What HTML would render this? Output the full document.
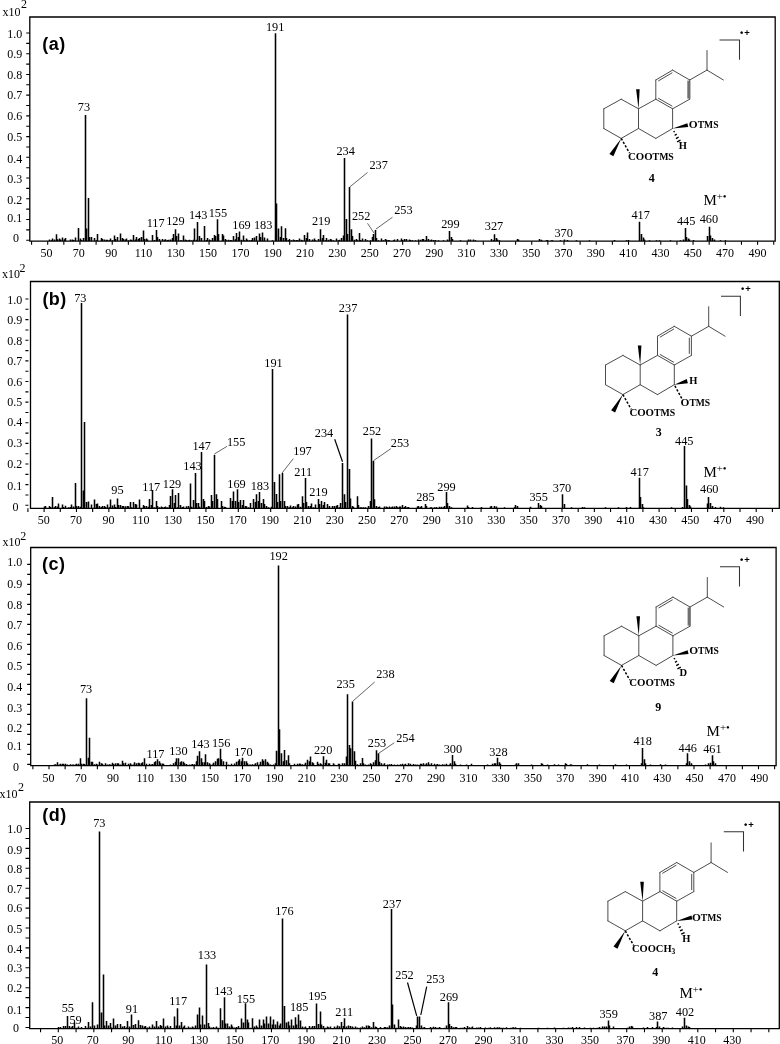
<!DOCTYPE html>
<html lang="en"><head><meta charset="utf-8"><title>Mass spectra</title>
<style>html,body{margin:0;padding:0;background:#fff}svg{display:block}text{font-family:'Liberation Serif',serif;fill:#000}text.sn{font-family:'Liberation Sans',sans-serif}</style>
</head><body>
<svg width="780" height="1044" viewBox="0 0 780 1044">
<rect width="780" height="1044" fill="#fff"/>
<g>
<path d="M29.8 241.2V17H775.2V241.2Z" stroke="#000" stroke-width="1.3" fill="none"/>
<path d="M26.2 240.2H29.8M26.2 229.84H29.8M26.2 219.48H29.8M26.2 209.12H29.8M26.2 198.76H29.8M26.2 188.4H29.8M26.2 178.04H29.8M26.2 167.68H29.8M26.2 157.32H29.8M26.2 146.96H29.8M26.2 136.6H29.8M26.2 126.24H29.8M26.2 115.88H29.8M26.2 105.52H29.8M26.2 95.16H29.8M26.2 84.8H29.8M26.2 74.44H29.8M26.2 64.08H29.8M26.2 53.72H29.8M26.2 43.36H29.8M26.2 33H29.8" stroke="#000" stroke-width="1.1" fill="none"/>
<text x="19" y="242.2" font-size="12" text-anchor="end">0</text>
<text x="22.3" y="221.5" font-size="12" text-anchor="end">0.1</text>
<text x="22.3" y="203.7" font-size="12" text-anchor="end">0.2</text>
<text x="22.3" y="183.3" font-size="12" text-anchor="end">0.3</text>
<text x="22.3" y="162.6" font-size="12" text-anchor="end">0.4</text>
<text x="22.3" y="141.4" font-size="12" text-anchor="end">0.5</text>
<text x="22.3" y="119.7" font-size="12" text-anchor="end">0.6</text>
<text x="22.3" y="99.4" font-size="12" text-anchor="end">0.7</text>
<text x="22.3" y="78.9" font-size="12" text-anchor="end">0.8</text>
<text x="22.3" y="58.3" font-size="12" text-anchor="end">0.9</text>
<text x="22.3" y="37.6" font-size="12" text-anchor="end">1.0</text>
<path d="M31.57 241.2V244.8M47.7 241.2V244.8M63.83 241.2V244.8M79.97 241.2V244.8M96.1 241.2V244.8M112.24 241.2V244.8M128.37 241.2V244.8M144.5 241.2V244.8M160.64 241.2V244.8M176.77 241.2V244.8M192.91 241.2V244.8M209.04 241.2V244.8M225.17 241.2V244.8M241.31 241.2V244.8M257.44 241.2V244.8M273.58 241.2V244.8M289.71 241.2V244.8M305.84 241.2V244.8M321.98 241.2V244.8M338.11 241.2V244.8M354.25 241.2V244.8M370.38 241.2V244.8M386.51 241.2V244.8M402.65 241.2V244.8M418.78 241.2V244.8M434.92 241.2V244.8M451.05 241.2V244.8M467.18 241.2V244.8M483.32 241.2V244.8M499.45 241.2V244.8M515.59 241.2V244.8M531.72 241.2V244.8M547.85 241.2V244.8M563.99 241.2V244.8M580.12 241.2V244.8M596.26 241.2V244.8M612.39 241.2V244.8M628.52 241.2V244.8M644.66 241.2V244.8M660.79 241.2V244.8M676.93 241.2V244.8M693.06 241.2V244.8M709.19 241.2V244.8M725.33 241.2V244.8M741.46 241.2V244.8M757.6 241.2V244.8M773.73 241.2V244.8" stroke="#000" stroke-width="1.1" fill="none"/>
<text x="46.5" y="257.1" font-size="12" text-anchor="middle">50</text>
<text x="78.81" y="257.1" font-size="12" text-anchor="middle">70</text>
<text x="111.13" y="257.1" font-size="12" text-anchor="middle">90</text>
<text x="143.44" y="257.1" font-size="12" text-anchor="middle">110</text>
<text x="175.75" y="257.1" font-size="12" text-anchor="middle">130</text>
<text x="208.07" y="257.1" font-size="12" text-anchor="middle">150</text>
<text x="240.38" y="257.1" font-size="12" text-anchor="middle">170</text>
<text x="272.7" y="257.1" font-size="12" text-anchor="middle">190</text>
<text x="305.01" y="257.1" font-size="12" text-anchor="middle">210</text>
<text x="337.32" y="257.1" font-size="12" text-anchor="middle">230</text>
<text x="369.64" y="257.1" font-size="12" text-anchor="middle">250</text>
<text x="401.95" y="257.1" font-size="12" text-anchor="middle">270</text>
<text x="434.26" y="257.1" font-size="12" text-anchor="middle">290</text>
<text x="466.58" y="257.1" font-size="12" text-anchor="middle">310</text>
<text x="498.89" y="257.1" font-size="12" text-anchor="middle">330</text>
<text x="531.2" y="257.1" font-size="12" text-anchor="middle">350</text>
<text x="563.52" y="257.1" font-size="12" text-anchor="middle">370</text>
<text x="595.83" y="257.1" font-size="12" text-anchor="middle">390</text>
<text x="628.15" y="257.1" font-size="12" text-anchor="middle">410</text>
<text x="660.46" y="257.1" font-size="12" text-anchor="middle">430</text>
<text x="692.77" y="257.1" font-size="12" text-anchor="middle">450</text>
<text x="725.09" y="257.1" font-size="12" text-anchor="middle">470</text>
<text x="757.4" y="257.1" font-size="12" text-anchor="middle">490</text>
<text x="2.5" y="16.2" font-size="12" text-anchor="start">x10</text>
<text x="21.1" y="7.7" font-size="12" text-anchor="start">2</text>
<text x="42.3" y="49.5" font-size="18" text-anchor="start" font-weight="bold" class="sn" letter-spacing="0.45">(a)</text>
<path d="M49.5 241V239.5M51.5 241V240.23M52.5 241V238.5M54.5 241V239.46M56.5 241V234.3M57.5 241V239.31M59.5 241V238.5M60.5 241V239.49M62.5 241V237.5M64.5 241V239.16M65.5 241V238M70.5 241V239.54M72.5 241V239.5M73.5 241V239.93M75.5 241V237.5M78.5 241V228M80.5 241V238.5M81.5 241V239.98M83.5 241V238M85.5 241V115M86.5 241V228.5M88.5 241V198M89.5 241V237M91.5 241V237M94.5 241V238M96.5 241V240.16M97.5 241V234M101.5 241V238M102.5 241V239M104.5 241V239.5M106.5 241V239.74M107.5 241V239.77M109.5 241V240.29M110.5 241V238.5M112.5 241V240.23M114.5 241V235.5M115.5 241V239M117.5 241V237M120.5 241V233.5M122.5 241V238M123.5 241V239M125.5 241V239.55M126.5 241V238.5M128.5 241V240.15M130.5 241V239.5M131.5 241V239.64M133.5 241V235M135.5 241V239.58M136.5 241V237M138.5 241V239M139.5 241V238M141.5 241V237M143.5 241V230.5M144.5 241V239M146.5 241V238.5M147.5 241V239.5M152.5 241V235M154.5 241V240.12M156.5 241V230M157.5 241V237M159.5 241V239M162.5 241V239M164.5 241V239.67M165.5 241V239.27M167.5 241V239.91M168.5 241V239.8M170.5 241V239.51M172.5 241V238M173.5 241V234M175.5 241V229.3M176.5 241V236M178.5 241V233.5M180.5 241V240.29M181.5 241V240.18M183.5 241V235.5M185.5 241V239.5M186.5 241V239.92M188.5 241V240.23M189.5 241V239.81M191.5 241V240.18M193.5 241V239.76M194.5 241V228.5M196.5 241V239.67M197.5 241V222M199.5 241V236M201.5 241V238M204.5 241V226M206.5 241V240.12M207.5 241V238M209.5 241V239.56M210.5 241V240.29M212.5 241V238M214.5 241V235M215.5 241V236M217.5 241V219.3M218.5 241V234M222.5 241V234M223.5 241V235.5M225.5 241V239M226.5 241V240.22M228.5 241V239.77M230.5 241V240.05M231.5 241V240.23M233.5 241V236M235.5 241V239.36M236.5 241V233M238.5 241V237M239.5 241V231.5M241.5 241V239.73M243.5 241V235.5M244.5 241V240.17M246.5 241V238.5M247.5 241V239.67M249.5 241V240.2M251.5 241V239.97M252.5 241V238M254.5 241V237.5M256.5 241V236M259.5 241V233.5M260.5 241V237M262.5 241V232.5M264.5 241V237.5M267.5 241V238.5M272.5 241V240.29M275.5 241V33.2M276.5 241V203.5M278.5 241V228.5M280.5 241V237M281.5 241V226.3M283.5 241V238M285.5 241V228.2M286.5 241V238M288.5 241V239.91M289.5 241V239M291.5 241V240.2M293.5 241V239.42M294.5 241V240.09M296.5 241V240.01M297.5 241V240.09M299.5 241V238.5M301.5 241V239.65M302.5 241V240.2M304.5 241V235M306.5 241V238M307.5 241V232.5M309.5 241V239M312.5 241V239.55M314.5 241V238.5M315.5 241V240.28M318.5 241V239M320.5 241V229.3M322.5 241V238M323.5 241V235M325.5 241V240.26M326.5 241V238M328.5 241V239.72M330.5 241V239M331.5 241V239.55M333.5 241V240.3M336.5 241V238.5M338.5 241V240.27M339.5 241V239.85M341.5 241V238M343.5 241V235.5M344.5 241V158M346.5 241V219M347.5 241V234M349.5 241V187M351.5 241V229.3M352.5 241V236M354.5 241V239.64M356.5 241V239M357.5 241V240.16M359.5 241V233M360.5 241V240.05M362.5 241V238.5M365.5 241V239M367.5 241V240.3M370.5 241V240.24M372.5 241V237M373.5 241V234M375.5 241V230M376.5 241V238M378.5 241V240.28M381.5 241V238.5M383.5 241V240.29M385.5 241V239M386.5 241V239.8M388.5 241V239.91M389.5 241V240.24M393.5 241V240.3M394.5 241V239.5M397.5 241V239M401.5 241V238.5M402.5 241V240M404.5 241V239M406.5 241V239M409.5 241V239.5M410.5 241V240.09M412.5 241V240.25M415.5 241V240.21M418.5 241V239.5M420.5 241V239.65M422.5 241V239M423.5 241V239M425.5 241V240.27M426.5 241V236M428.5 241V239M430.5 241V240.29M431.5 241V239.5M433.5 241V240.04M435.5 241V239.91M438.5 241V240.28M443.5 241V240.18M447.5 241V239.5M449.5 241V231M451.5 241V237M452.5 241V239M460.5 241V240.28M468.5 241V239.5M470.5 241V239.5M473.5 241V239.5M475.5 241V240.18M491.5 241V239M493.5 241V240.26M494.5 241V234.3M496.5 241V238M497.5 241V239.5M499.5 241V240.3M517.5 241V239M518.5 241V239.5M539.5 241V239M541.5 241V239.8M546.5 241V240.27M547.5 241V240.07M551.5 241V240.14M552.5 241V240.22M560.5 241V240.22M564.5 241V239.5M567.5 241V240M576.5 241V240.14M589.5 241V240.29M614.5 241V240.1M626.5 241V240.25M628.5 241V240M639.5 241V221.8M641.5 241V234M643.5 241V237.5M644.5 241V239.5M649.5 241V240.3M656.5 241V240.29M659.5 241V240.23M670.5 241V240.22M680.5 241V240.21M683.5 241V239.5M685.5 241V228M686.5 241V237M688.5 241V238.5M689.5 241V239.5M693.5 241V239.89M707.5 241V236M709.5 241V226.8M710.5 241V235.5M712.5 241V238M714.5 241V239.5M720.5 241V240.19M725.5 241V240.28" stroke="#000" stroke-width="1.55" fill="none"/>
<path d="M349.7 187L367.5 172.5" stroke="#333" stroke-width="0.75" fill="none"/>
<path d="M367.5 223.3L374.2 233.3" stroke="#333" stroke-width="0.75" fill="none"/>
<path d="M375.8 229.2L392.5 217.2" stroke="#333" stroke-width="0.75" fill="none"/>
<text x="265.95" y="30.6" font-size="12.3" text-anchor="start">191</text>
<text x="77.85" y="111.2" font-size="12.3" text-anchor="start">73</text>
<text x="336.45" y="154.5" font-size="12.3" text-anchor="start">234</text>
<text x="369.45" y="169.2" font-size="12.3" text-anchor="start">237</text>
<text x="703.4" y="205.2" font-size="15">M<tspan font-size="10.8" dy="-5">+•</tspan></text>
</g>
<g>
<path d="M30.5 508.3V281.5H779.3V508.3Z" stroke="#000" stroke-width="1.3" fill="none"/>
<path d="M25.4 505.3H28.4M25.4 494.99H28.4M25.4 484.67H28.4M25.4 474.36H28.4M25.4 464.04H28.4M25.4 453.73H28.4M25.4 443.41H28.4M25.4 433.1H28.4M25.4 422.78H28.4M25.4 412.47H28.4M25.4 402.15H28.4M25.4 391.84H28.4M25.4 381.52H28.4M25.4 371.21H28.4M25.4 360.89H28.4M25.4 350.58H28.4M25.4 340.26H28.4M25.4 329.95H28.4M25.4 319.63H28.4M25.4 309.32H28.4M25.4 299H28.4" stroke="#000" stroke-width="1.1" fill="none"/>
<text x="18.6" y="510.7" font-size="12" text-anchor="end">0</text>
<text x="22.3" y="490" font-size="12" text-anchor="end">0.1</text>
<text x="22.3" y="467.8" font-size="12" text-anchor="end">0.2</text>
<text x="22.3" y="446.6" font-size="12" text-anchor="end">0.3</text>
<text x="22.3" y="426.2" font-size="12" text-anchor="end">0.4</text>
<text x="22.3" y="405.8" font-size="12" text-anchor="end">0.5</text>
<text x="22.3" y="385.9" font-size="12" text-anchor="end">0.6</text>
<text x="22.3" y="365.2" font-size="12" text-anchor="end">0.7</text>
<text x="22.3" y="344.5" font-size="12" text-anchor="end">0.8</text>
<text x="22.3" y="324.4" font-size="12" text-anchor="end">0.9</text>
<text x="22.3" y="303.7" font-size="12" text-anchor="end">1.0</text>
<path d="M27.92 508.3V511.9M44.1 508.3V511.9M60.28 508.3V511.9M76.47 508.3V511.9M92.65 508.3V511.9M108.84 508.3V511.9M125.02 508.3V511.9M141.2 508.3V511.9M157.39 508.3V511.9M173.57 508.3V511.9M189.76 508.3V511.9M205.94 508.3V511.9M222.12 508.3V511.9M238.31 508.3V511.9M254.49 508.3V511.9M270.68 508.3V511.9M286.86 508.3V511.9M303.04 508.3V511.9M319.23 508.3V511.9M335.41 508.3V511.9M351.6 508.3V511.9M367.78 508.3V511.9M383.96 508.3V511.9M400.15 508.3V511.9M416.33 508.3V511.9M432.52 508.3V511.9M448.7 508.3V511.9M464.88 508.3V511.9M481.07 508.3V511.9M497.25 508.3V511.9M513.44 508.3V511.9M529.62 508.3V511.9M545.8 508.3V511.9M561.99 508.3V511.9M578.17 508.3V511.9M594.36 508.3V511.9M610.54 508.3V511.9M626.72 508.3V511.9M642.91 508.3V511.9M659.09 508.3V511.9M675.28 508.3V511.9M691.46 508.3V511.9M707.64 508.3V511.9M723.83 508.3V511.9M740.01 508.3V511.9M756.2 508.3V511.9M772.38 508.3V511.9" stroke="#000" stroke-width="1.1" fill="none"/>
<text x="43.8" y="524.2" font-size="12" text-anchor="middle">50</text>
<text x="76.12" y="524.2" font-size="12" text-anchor="middle">70</text>
<text x="108.45" y="524.2" font-size="12" text-anchor="middle">90</text>
<text x="140.77" y="524.2" font-size="12" text-anchor="middle">110</text>
<text x="173.09" y="524.2" font-size="12" text-anchor="middle">130</text>
<text x="205.41" y="524.2" font-size="12" text-anchor="middle">150</text>
<text x="237.74" y="524.2" font-size="12" text-anchor="middle">170</text>
<text x="270.06" y="524.2" font-size="12" text-anchor="middle">190</text>
<text x="302.38" y="524.2" font-size="12" text-anchor="middle">210</text>
<text x="334.7" y="524.2" font-size="12" text-anchor="middle">230</text>
<text x="367.03" y="524.2" font-size="12" text-anchor="middle">250</text>
<text x="399.35" y="524.2" font-size="12" text-anchor="middle">270</text>
<text x="431.67" y="524.2" font-size="12" text-anchor="middle">290</text>
<text x="464" y="524.2" font-size="12" text-anchor="middle">310</text>
<text x="496.32" y="524.2" font-size="12" text-anchor="middle">330</text>
<text x="528.64" y="524.2" font-size="12" text-anchor="middle">350</text>
<text x="560.96" y="524.2" font-size="12" text-anchor="middle">370</text>
<text x="593.29" y="524.2" font-size="12" text-anchor="middle">390</text>
<text x="625.61" y="524.2" font-size="12" text-anchor="middle">410</text>
<text x="657.93" y="524.2" font-size="12" text-anchor="middle">430</text>
<text x="690.25" y="524.2" font-size="12" text-anchor="middle">450</text>
<text x="722.58" y="524.2" font-size="12" text-anchor="middle">470</text>
<text x="754.9" y="524.2" font-size="12" text-anchor="middle">490</text>
<text x="2" y="278" font-size="12" text-anchor="start">x10</text>
<text x="19.4" y="272.4" font-size="12" text-anchor="start">2</text>
<text x="42.4" y="304.5" font-size="18" text-anchor="start" font-weight="bold" class="sn" letter-spacing="0.45">(b)</text>
<path d="M44.5 508V506.5M45.5 508V506M49.5 508V506M50.5 508V507.08M52.5 508V497M54.5 508V507.29M55.5 508V506M57.5 508V506.5M58.5 508V503.5M62.5 508V504.5M63.5 508V507M65.5 508V505.87M68.5 508V507.25M70.5 508V506.9M71.5 508V504.5M73.5 508V506.43M75.5 508V483M76.5 508V506M78.5 508V506M80.5 508V506.83M81.5 508V303M83.5 508V490.5M84.5 508V422M86.5 508V502M88.5 508V501.5M91.5 508V504.5M94.5 508V499.5M96.5 508V504M97.5 508V503.5M99.5 508V506M101.5 508V506.99M102.5 508V506M104.5 508V506M105.5 508V507.06M107.5 508V504.5M109.5 508V507.2M110.5 508V499.5M112.5 508V505.43M114.5 508V504.5M115.5 508V506.99M117.5 508V498.5M118.5 508V505M120.5 508V505M122.5 508V506M123.5 508V505.96M125.5 508V506.19M127.5 508V506M128.5 508V506.13M130.5 508V502M131.5 508V507.29M133.5 508V502M135.5 508V504M136.5 508V504.5M139.5 508V499.5M143.5 508V505M144.5 508V506M146.5 508V506M148.5 508V506.68M149.5 508V499M151.5 508V505M152.5 508V490M154.5 508V507.24M156.5 508V501M157.5 508V506M159.5 508V507.26M161.5 508V506.51M162.5 508V507.3M164.5 508V507.05M165.5 508V506.62M167.5 508V507.17M169.5 508V505M170.5 508V496M172.5 508V489.3M174.5 508V503M175.5 508V495M177.5 508V507.3M178.5 508V493M180.5 508V505M182.5 508V507.09M183.5 508V506.49M186.5 508V506.23M188.5 508V506M190.5 508V483.5M191.5 508V506.69M193.5 508V500M195.5 508V473M196.5 508V503M198.5 508V503M199.5 508V506.67M201.5 508V452M203.5 508V499M204.5 508V501M206.5 508V506.93M208.5 508V506M209.5 508V506.38M211.5 508V495M212.5 508V501M214.5 508V455M216.5 508V494.3M217.5 508V499M221.5 508V501M222.5 508V506M224.5 508V506.7M225.5 508V507.1M230.5 508V498M232.5 508V501M233.5 508V491.5M235.5 508V501M237.5 508V489.3M238.5 508V502M240.5 508V500M242.5 508V505M243.5 508V500M245.5 508V506M246.5 508V506.29M248.5 508V507.21M250.5 508V503M253.5 508V499M255.5 508V502M256.5 508V494.3M258.5 508V501M259.5 508V492M261.5 508V503M263.5 508V499M264.5 508V504M266.5 508V506M268.5 508V507.24M271.5 508V506.81M272.5 508V369M274.5 508V482M276.5 508V494M277.5 508V502M279.5 508V474.3M280.5 508V501M282.5 508V473M284.5 508V501M285.5 508V506.09M287.5 508V506M289.5 508V507.17M290.5 508V505.5M292.5 508V507.2M293.5 508V506M295.5 508V506.55M297.5 508V504.5M298.5 508V504M300.5 508V506.87M302.5 508V496.3M303.5 508V503M305.5 508V478M306.5 508V502M308.5 508V506M310.5 508V505.91M311.5 508V503.5M313.5 508V507.2M315.5 508V504.5M318.5 508V499M319.5 508V504M321.5 508V501M323.5 508V505M324.5 508V502M327.5 508V504M329.5 508V506M332.5 508V506M334.5 508V506M336.5 508V505.84M337.5 508V505M339.5 508V507.22M340.5 508V503M342.5 508V463M344.5 508V494.3M345.5 508V502M347.5 508V314.5M349.5 508V469M350.5 508V498.5M352.5 508V506M353.5 508V506.74M357.5 508V496.3M358.5 508V505M360.5 508V507.2M361.5 508V507.26M363.5 508V507.27M365.5 508V507.2M368.5 508V506M370.5 508V501M371.5 508V438.5M373.5 508V461M374.5 508V499.3M376.5 508V506M378.5 508V506.88M379.5 508V506.5M384.5 508V506.5M386.5 508V506.54M387.5 508V507.18M389.5 508V506.5M391.5 508V507.2M392.5 508V506.5M394.5 508V506.5M396.5 508V506M397.5 508V507.21M399.5 508V506.5M400.5 508V506.59M402.5 508V505M404.5 508V506.94M405.5 508V506M407.5 508V507.16M408.5 508V506.96M417.5 508V506.5M418.5 508V506M420.5 508V506.99M421.5 508V506M425.5 508V504M426.5 508V506M430.5 508V507.3M431.5 508V507.16M434.5 508V507.21M436.5 508V506.98M439.5 508V506.63M441.5 508V506.72M443.5 508V507.26M444.5 508V506M446.5 508V492M447.5 508V503M449.5 508V506M451.5 508V507.26M467.5 508V505.5M468.5 508V507M472.5 508V507M481.5 508V506.97M490.5 508V506.5M491.5 508V506M494.5 508V506M496.5 508V506.5M504.5 508V507.17M514.5 508V507.29M515.5 508V505M517.5 508V506M530.5 508V506.82M538.5 508V503M540.5 508V505M541.5 508V506M562.5 508V494.3M564.5 508V504M571.5 508V507.28M582.5 508V507.05M584.5 508V507.28M605.5 508V507.28M618.5 508V507.24M626.5 508V507.08M630.5 508V507.12M639.5 508V477.8M640.5 508V497M642.5 508V504M643.5 508V507.27M671.5 508V507.25M682.5 508V507.12M684.5 508V446M686.5 508V485.5M687.5 508V499M689.5 508V505M690.5 508V506.5M707.5 508V503.5M708.5 508V497M710.5 508V503M712.5 508V506M715.5 508V506.93M720.5 508V506.77M723.5 508V507.28" stroke="#000" stroke-width="1.55" fill="none"/>
<path d="M214.2 454.2L227 446.3" stroke="#333" stroke-width="0.75" fill="none"/>
<path d="M282 473L293.3 458.7" stroke="#333" stroke-width="0.75" fill="none"/>
<path d="M334.7 439.2L342.5 461.7" stroke="#000" stroke-width="1.2" fill="none"/>
<path d="M373.3 460.8L390.8 448.7" stroke="#333" stroke-width="0.75" fill="none"/>
<text x="111.35" y="493.7" font-size="12.3" text-anchor="start">95</text>
<text x="264.25" y="366.5" font-size="12.3" text-anchor="start">191</text>
<text x="338.85" y="312.4" font-size="12.3" text-anchor="start">237</text>
<text x="74.15" y="302.2" font-size="12.3" text-anchor="start">73</text>
<text x="192.45" y="450.1" font-size="12.3" text-anchor="start">147</text>
<text x="183.25" y="470.1" font-size="12.3" text-anchor="start">143</text>
<text x="226.95" y="445.9" font-size="12.3" text-anchor="start">155</text>
<text x="162.75" y="487.6" font-size="12.3" text-anchor="start">129</text>
<text x="227.25" y="487.6" font-size="12.3" text-anchor="start">169</text>
<text x="250.65" y="489.6" font-size="12.3" text-anchor="start">183</text>
<text x="142.25" y="490.6" font-size="12.3" text-anchor="start">117</text>
<text x="293.25" y="455.4" font-size="12.3" text-anchor="start">197</text>
<text x="294.15" y="475.6" font-size="12.3" text-anchor="start">211</text>
<text x="309.15" y="495.9" font-size="12.3" text-anchor="start">219</text>
<text x="314.75" y="437.2" font-size="12.3" text-anchor="start">234</text>
<text x="362.75" y="435.1" font-size="12.3" text-anchor="start">252</text>
<text x="390.75" y="446.7" font-size="12.3" text-anchor="start">253</text>
<text x="416.15" y="500.9" font-size="12.3" text-anchor="start">285</text>
<text x="437.25" y="490.6" font-size="12.3" text-anchor="start">299</text>
<text x="529.45" y="500.6" font-size="12.3" text-anchor="start">355</text>
<text x="552.75" y="491.7" font-size="12.3" text-anchor="start">370</text>
<text x="675.05" y="444.9" font-size="12.3" text-anchor="start">445</text>
<text x="630.45" y="475.7" font-size="12.3" text-anchor="start">417</text>
<text x="700.05" y="492.9" font-size="12.3" text-anchor="start">460</text>
<text x="703.4" y="477.1" font-size="15">M<tspan font-size="10.8" dy="-5">+•</tspan></text>
</g>
<g>
<path d="M30.7 765.6V547.5H776.1V765.6Z" stroke="#000" stroke-width="1.3" fill="none"/>
<path d="M27.2 764.4H31M27.2 754.4H31M27.2 744.4H31M27.2 734.4H31M27.2 724.4H31M27.2 714.4H31M27.2 704.4H31M27.2 694.4H31M27.2 684.4H31M27.2 674.4H31M27.2 664.4H31M27.2 654.4H31M27.2 644.4H31M27.2 634.4H31M27.2 624.4H31M27.2 614.4H31M27.2 604.4H31M27.2 594.4H31M27.2 584.4H31M27.2 574.4H31M27.2 564.4H31" stroke="#000" stroke-width="1.1" fill="none"/>
<text x="19" y="771.2" font-size="12" text-anchor="end">0</text>
<text x="22.3" y="750.3" font-size="12" text-anchor="end">0.1</text>
<text x="22.3" y="732.4" font-size="12" text-anchor="end">0.2</text>
<text x="22.3" y="711.5" font-size="12" text-anchor="end">0.3</text>
<text x="22.3" y="691" font-size="12" text-anchor="end">0.4</text>
<text x="22.3" y="670.3" font-size="12" text-anchor="end">0.5</text>
<text x="22.3" y="649.5" font-size="12" text-anchor="end">0.6</text>
<text x="22.3" y="628.8" font-size="12" text-anchor="end">0.7</text>
<text x="22.3" y="608.7" font-size="12" text-anchor="end">0.8</text>
<text x="22.3" y="587.8" font-size="12" text-anchor="end">0.9</text>
<text x="22.3" y="566.4" font-size="12" text-anchor="end">1.0</text>
<path d="M32.88 765.6V769.2M49 765.6V769.2M65.12 765.6V769.2M81.25 765.6V769.2M97.38 765.6V769.2M113.5 765.6V769.2M129.62 765.6V769.2M145.75 765.6V769.2M161.88 765.6V769.2M178 765.6V769.2M194.12 765.6V769.2M210.25 765.6V769.2M226.38 765.6V769.2M242.5 765.6V769.2M258.62 765.6V769.2M274.75 765.6V769.2M290.88 765.6V769.2M307 765.6V769.2M323.12 765.6V769.2M339.25 765.6V769.2M355.38 765.6V769.2M371.5 765.6V769.2M387.62 765.6V769.2M403.75 765.6V769.2M419.88 765.6V769.2M436 765.6V769.2M452.12 765.6V769.2M468.25 765.6V769.2M484.38 765.6V769.2M500.5 765.6V769.2M516.62 765.6V769.2M532.75 765.6V769.2M548.88 765.6V769.2M565 765.6V769.2M581.12 765.6V769.2M597.25 765.6V769.2M613.38 765.6V769.2M629.5 765.6V769.2M645.62 765.6V769.2M661.75 765.6V769.2M677.88 765.6V769.2M694 765.6V769.2M710.12 765.6V769.2M726.25 765.6V769.2M742.38 765.6V769.2M758.5 765.6V769.2M774.62 765.6V769.2" stroke="#000" stroke-width="1.1" fill="none"/>
<text x="48.4" y="781.5" font-size="12" text-anchor="middle">50</text>
<text x="80.71" y="781.5" font-size="12" text-anchor="middle">70</text>
<text x="113.02" y="781.5" font-size="12" text-anchor="middle">90</text>
<text x="145.33" y="781.5" font-size="12" text-anchor="middle">110</text>
<text x="177.64" y="781.5" font-size="12" text-anchor="middle">130</text>
<text x="209.95" y="781.5" font-size="12" text-anchor="middle">150</text>
<text x="242.25" y="781.5" font-size="12" text-anchor="middle">170</text>
<text x="274.56" y="781.5" font-size="12" text-anchor="middle">190</text>
<text x="306.87" y="781.5" font-size="12" text-anchor="middle">210</text>
<text x="339.18" y="781.5" font-size="12" text-anchor="middle">230</text>
<text x="371.49" y="781.5" font-size="12" text-anchor="middle">250</text>
<text x="403.8" y="781.5" font-size="12" text-anchor="middle">270</text>
<text x="436.11" y="781.5" font-size="12" text-anchor="middle">290</text>
<text x="468.42" y="781.5" font-size="12" text-anchor="middle">310</text>
<text x="500.73" y="781.5" font-size="12" text-anchor="middle">330</text>
<text x="533.04" y="781.5" font-size="12" text-anchor="middle">350</text>
<text x="565.35" y="781.5" font-size="12" text-anchor="middle">370</text>
<text x="597.65" y="781.5" font-size="12" text-anchor="middle">390</text>
<text x="629.96" y="781.5" font-size="12" text-anchor="middle">410</text>
<text x="662.27" y="781.5" font-size="12" text-anchor="middle">430</text>
<text x="694.58" y="781.5" font-size="12" text-anchor="middle">450</text>
<text x="726.89" y="781.5" font-size="12" text-anchor="middle">470</text>
<text x="759.2" y="781.5" font-size="12" text-anchor="middle">490</text>
<text x="2.5" y="545.6" font-size="12" text-anchor="start">x10</text>
<text x="20.2" y="539.8" font-size="12" text-anchor="start">2</text>
<text x="42.1" y="570.3" font-size="18" text-anchor="start" font-weight="bold" class="sn" letter-spacing="0.45">(c)</text>
<path d="M54.5 765.3V764.44M55.5 765.3V764.29M57.5 765.3V762.3M59.5 765.3V764.59M60.5 765.3V763.8M62.5 765.3V763.65M63.5 765.3V763.8M65.5 765.3V763.8M67.5 765.3V764.54M70.5 765.3V764.27M72.5 765.3V764.58M73.5 765.3V764.39M75.5 765.3V764.38M76.5 765.3V763.8M78.5 765.3V763.86M80.5 765.3V758.3M81.5 765.3V763.8M83.5 765.3V763.8M84.5 765.3V763.9M86.5 765.3V698.3M88.5 765.3V757.8M89.5 765.3V737.8M91.5 765.3V761.8M92.5 765.3V761.8M94.5 765.3V764.19M96.5 765.3V763.8M97.5 765.3V764.53M99.5 765.3V761.8M101.5 765.3V763.3M102.5 765.3V763.8M105.5 765.3V763.25M107.5 765.3V764.53M109.5 765.3V764.14M110.5 765.3V764.6M112.5 765.3V762.8M113.5 765.3V764.09M115.5 765.3V763.3M117.5 765.3V763.3M118.5 765.3V763.3M120.5 765.3V764.59M122.5 765.3V760.8M123.5 765.3V763.3M125.5 765.3V762.8M128.5 765.3V763.8M130.5 765.3V763.25M131.5 765.3V764.53M133.5 765.3V764.45M134.5 765.3V762.3M136.5 765.3V763.3M138.5 765.3V762.8M139.5 765.3V763.3M141.5 765.3V763.3M142.5 765.3V762.3M144.5 765.3V758.3M146.5 765.3V763.8M149.5 765.3V763.8M151.5 765.3V764.48M152.5 765.3V763.92M154.5 765.3V762.3M155.5 765.3V761.3M157.5 765.3V759.3M159.5 765.3V761.3M160.5 765.3V763.3M162.5 765.3V763.46M163.5 765.3V763.8M170.5 765.3V764.38M173.5 765.3V763.3M175.5 765.3V761.8M176.5 765.3V758.3M178.5 765.3V758.3M180.5 765.3V762.3M181.5 765.3V761.3M183.5 765.3V761.8M184.5 765.3V763.3M186.5 765.3V763.99M189.5 765.3V764.59M191.5 765.3V764.59M192.5 765.3V764.05M194.5 765.3V764.33M196.5 765.3V761.3M197.5 765.3V755.8M199.5 765.3V751.3M201.5 765.3V758.3M202.5 765.3V762.3M204.5 765.3V762.3M205.5 765.3V754.3M207.5 765.3V762.3M209.5 765.3V763.3M210.5 765.3V764.51M212.5 765.3V764.57M213.5 765.3V762.8M215.5 765.3V761.3M217.5 765.3V758.8M218.5 765.3V758.3M220.5 765.3V748.8M221.5 765.3V759.3M223.5 765.3V761.3M226.5 765.3V761.8M228.5 765.3V764.55M231.5 765.3V763.8M234.5 765.3V763.41M236.5 765.3V761.8M238.5 765.3V760.8M239.5 765.3V759.3M241.5 765.3V761.3M242.5 765.3V757.8M244.5 765.3V761.3M246.5 765.3V761.3M247.5 765.3V763.3M249.5 765.3V764.57M250.5 765.3V764.5M252.5 765.3V764.25M254.5 765.3V764.5M255.5 765.3V763.3M257.5 765.3V762.3M259.5 765.3V764.44M260.5 765.3V761.8M262.5 765.3V759.3M263.5 765.3V760.8M265.5 765.3V759.3M267.5 765.3V761.8M268.5 765.3V763.3M270.5 765.3V764.58M273.5 765.3V764.49M275.5 765.3V763.3M276.5 765.3V750.8M278.5 765.3V565.5M279.5 765.3V729.3M281.5 765.3V753.3M283.5 765.3V761.3M284.5 765.3V750M286.5 765.3V760.3M288.5 765.3V755.3M289.5 765.3V763.3M294.5 765.3V763.8M297.5 765.3V763.8M299.5 765.3V763.53M300.5 765.3V763.8M302.5 765.3V764.34M304.5 765.3V764.52M305.5 765.3V762.8M307.5 765.3V759.8M309.5 765.3V761.3M310.5 765.3V756.6M312.5 765.3V762.3M313.5 765.3V763.3M317.5 765.3V761.8M318.5 765.3V763.76M320.5 765.3V763.3M321.5 765.3V764.3M323.5 765.3V756.3M325.5 765.3V762.8M326.5 765.3V759.8M328.5 765.3V763.3M329.5 765.3V763.3M333.5 765.3V763.3M334.5 765.3V764.51M338.5 765.3V763.8M339.5 765.3V763.8M342.5 765.3V763.3M344.5 765.3V763.3M346.5 765.3V756.6M347.5 765.3V694.3M349.5 765.3V745M350.5 765.3V748.3M352.5 765.3V701.6M354.5 765.3V751.3M355.5 765.3V760.8M357.5 765.3V764.22M360.5 765.3V763.3M362.5 765.3V758M363.5 765.3V763.3M365.5 765.3V764.54M368.5 765.3V764.58M370.5 765.3V763.3M371.5 765.3V764.25M373.5 765.3V762.3M375.5 765.3V760.3M376.5 765.3V750.3M378.5 765.3V753.3M379.5 765.3V761.8M381.5 765.3V763.3M383.5 765.3V764.57M384.5 765.3V763.3M387.5 765.3V764.4M389.5 765.3V764.17M391.5 765.3V764.09M394.5 765.3V764.39M397.5 765.3V764.57M400.5 765.3V764.16M402.5 765.3V763.8M404.5 765.3V764.58M405.5 765.3V763.8M408.5 765.3V763.3M410.5 765.3V763.8M413.5 765.3V764.07M415.5 765.3V764.56M417.5 765.3V764.5M420.5 765.3V763.86M421.5 765.3V763.8M423.5 765.3V763.3M425.5 765.3V764.59M426.5 765.3V763.3M428.5 765.3V762.3M429.5 765.3V764.43M431.5 765.3V763.3M434.5 765.3V763.8M436.5 765.3V764.4M437.5 765.3V764.03M439.5 765.3V764.49M442.5 765.3V764.35M444.5 765.3V764.6M446.5 765.3V763.65M449.5 765.3V764.39M450.5 765.3V763.3M452.5 765.3V755M454.5 765.3V761.3M455.5 765.3V763.8M460.5 765.3V764.49M466.5 765.3V764.57M471.5 765.3V763.8M487.5 765.3V764.51M492.5 765.3V763.8M494.5 765.3V763.3M495.5 765.3V763.3M497.5 765.3V757.8M499.5 765.3V762.3M500.5 765.3V763.8M515.5 765.3V764.49M516.5 765.3V763.3M518.5 765.3V763.3M531.5 765.3V764.58M541.5 765.3V763.3M542.5 765.3V763.8M547.5 765.3V764.39M554.5 765.3V764.36M558.5 765.3V764.38M565.5 765.3V763.3M566.5 765.3V764.1M570.5 765.3V764.34M571.5 765.3V764.54M587.5 765.3V764.26M599.5 765.3V764.44M615.5 765.3V764.22M626.5 765.3V764.6M641.5 765.3V763.3M642.5 765.3V748.1M644.5 765.3V759.3M645.5 765.3V763.3M650.5 765.3V764.59M660.5 765.3V764.22M665.5 765.3V764.45M686.5 765.3V763.3M687.5 765.3V753.3M689.5 765.3V761.3M691.5 765.3V763.3M705.5 765.3V764.56M708.5 765.3V763.3M710.5 765.3V762.8M712.5 765.3V755.3M713.5 765.3V761.3M715.5 765.3V763.3" stroke="#000" stroke-width="1.55" fill="none"/>
<path d="M352.8 701.2L374.7 682" stroke="#333" stroke-width="0.75" fill="none"/>
<path d="M378.7 753.3L394.2 742.8" stroke="#333" stroke-width="0.75" fill="none"/>
<text x="79.95" y="693.4" font-size="12.3" text-anchor="start">73</text>
<text x="146.45" y="758.4" font-size="12.3" text-anchor="start">117</text>
<text x="169.15" y="755.4" font-size="12.3" text-anchor="start">130</text>
<text x="191.15" y="747.9" font-size="12.3" text-anchor="start">143</text>
<text x="211.95" y="746.7" font-size="12.3" text-anchor="start">156</text>
<text x="234.15" y="756.2" font-size="12.3" text-anchor="start">170</text>
<text x="269.45" y="559.9" font-size="12.3" text-anchor="start">192</text>
<text x="336.45" y="688.4" font-size="12.3" text-anchor="start">235</text>
<text x="376.15" y="678.1" font-size="12.3" text-anchor="start">238</text>
<text x="313.95" y="754.2" font-size="12.3" text-anchor="start">220</text>
<text x="367.75" y="746.7" font-size="12.3" text-anchor="start">253</text>
<text x="396.15" y="741.7" font-size="12.3" text-anchor="start">254</text>
<text x="443.65" y="753.4" font-size="12.3" text-anchor="start">300</text>
<text x="489.15" y="755.6" font-size="12.3" text-anchor="start">328</text>
<text x="633.45" y="745.3" font-size="12.3" text-anchor="start">418</text>
<text x="678.55" y="752.4" font-size="12.3" text-anchor="start">446</text>
<text x="703.15" y="753.1" font-size="12.3" text-anchor="start">461</text>
<text x="706.6" y="735.9" font-size="15">M<tspan font-size="10.8" dy="-5">+•</tspan></text>
</g>
<g>
<path d="M29.7 1028.7V802H779.3V1028.7Z" stroke="#000" stroke-width="1.3" fill="none"/>
<path d="M25.5 1027.5H29.7M25.5 1017.55H29.7M25.5 1007.6H29.7M25.5 997.65H29.7M25.5 987.7H29.7M25.5 977.75H29.7M25.5 967.8H29.7M25.5 957.85H29.7M25.5 947.9H29.7M25.5 937.95H29.7M25.5 928H29.7M25.5 918.05H29.7M25.5 908.1H29.7M25.5 898.15H29.7M25.5 888.2H29.7M25.5 878.25H29.7M25.5 868.3H29.7M25.5 858.35H29.7M25.5 848.4H29.7M25.5 838.45H29.7M25.5 828.5H29.7" stroke="#000" stroke-width="1.1" fill="none"/>
<text x="19" y="1032" font-size="12" text-anchor="end">0</text>
<text x="22.3" y="1014.2" font-size="12" text-anchor="end">0.1</text>
<text x="22.3" y="992.4" font-size="12" text-anchor="end">0.2</text>
<text x="22.3" y="972.3" font-size="12" text-anchor="end">0.3</text>
<text x="22.3" y="952.5" font-size="12" text-anchor="end">0.4</text>
<text x="22.3" y="932.6" font-size="12" text-anchor="end">0.5</text>
<text x="22.3" y="912.4" font-size="12" text-anchor="end">0.6</text>
<text x="22.3" y="893.4" font-size="12" text-anchor="end">0.7</text>
<text x="22.3" y="873.3" font-size="12" text-anchor="end">0.8</text>
<text x="22.3" y="853.8" font-size="12" text-anchor="end">0.9</text>
<text x="22.3" y="833.4" font-size="12" text-anchor="end">1.0</text>
<path d="M40.54 1028.7V1032.3M58.3 1028.7V1032.3M76.06 1028.7V1032.3M93.83 1028.7V1032.3M111.59 1028.7V1032.3M129.35 1028.7V1032.3M147.12 1028.7V1032.3M164.88 1028.7V1032.3M182.64 1028.7V1032.3M200.4 1028.7V1032.3M218.17 1028.7V1032.3M235.93 1028.7V1032.3M253.69 1028.7V1032.3M271.46 1028.7V1032.3M289.22 1028.7V1032.3M306.98 1028.7V1032.3M324.75 1028.7V1032.3M342.51 1028.7V1032.3M360.27 1028.7V1032.3M378.03 1028.7V1032.3M395.8 1028.7V1032.3M413.56 1028.7V1032.3M431.32 1028.7V1032.3M449.09 1028.7V1032.3M466.85 1028.7V1032.3M484.61 1028.7V1032.3M502.38 1028.7V1032.3M520.14 1028.7V1032.3M537.9 1028.7V1032.3M555.66 1028.7V1032.3M573.43 1028.7V1032.3M591.19 1028.7V1032.3M608.95 1028.7V1032.3M626.72 1028.7V1032.3M644.48 1028.7V1032.3M662.24 1028.7V1032.3M680 1028.7V1032.3M697.77 1028.7V1032.3M715.53 1028.7V1032.3M733.29 1028.7V1032.3M751.06 1028.7V1032.3M768.82 1028.7V1032.3" stroke="#000" stroke-width="1.1" fill="none"/>
<text x="57.2" y="1044.2" font-size="12" text-anchor="middle">50</text>
<text x="92.73" y="1044.2" font-size="12" text-anchor="middle">70</text>
<text x="128.25" y="1044.2" font-size="12" text-anchor="middle">90</text>
<text x="163.78" y="1044.2" font-size="12" text-anchor="middle">110</text>
<text x="199.31" y="1044.2" font-size="12" text-anchor="middle">130</text>
<text x="234.83" y="1044.2" font-size="12" text-anchor="middle">150</text>
<text x="270.36" y="1044.2" font-size="12" text-anchor="middle">170</text>
<text x="305.88" y="1044.2" font-size="12" text-anchor="middle">190</text>
<text x="341.41" y="1044.2" font-size="12" text-anchor="middle">210</text>
<text x="376.94" y="1044.2" font-size="12" text-anchor="middle">230</text>
<text x="412.46" y="1044.2" font-size="12" text-anchor="middle">250</text>
<text x="447.99" y="1044.2" font-size="12" text-anchor="middle">270</text>
<text x="483.52" y="1044.2" font-size="12" text-anchor="middle">290</text>
<text x="519.04" y="1044.2" font-size="12" text-anchor="middle">310</text>
<text x="554.57" y="1044.2" font-size="12" text-anchor="middle">330</text>
<text x="590.09" y="1044.2" font-size="12" text-anchor="middle">350</text>
<text x="625.62" y="1044.2" font-size="12" text-anchor="middle">370</text>
<text x="661.15" y="1044.2" font-size="12" text-anchor="middle">390</text>
<text x="696.67" y="1044.2" font-size="12" text-anchor="middle">410</text>
<text x="732.2" y="1044.2" font-size="12" text-anchor="middle">430</text>
<text x="-0.5" y="798.3" font-size="12" text-anchor="start">x10</text>
<text x="18" y="791" font-size="12" text-anchor="start">2</text>
<text x="42.3" y="821" font-size="18" text-anchor="start" font-weight="bold" class="sn" letter-spacing="0.45">(d)</text>
<path d="M58.5 1028.5V1027M60.5 1028.5V1027M63.5 1028.5V1026M65.5 1028.5V1026M67.5 1028.5V1016M69.5 1028.5V1026M71.5 1028.5V1027.23M72.5 1028.5V1026M74.5 1028.5V1022.5M76.5 1028.5V1027.68M78.5 1028.5V1026.5M81.5 1028.5V1027M85.5 1028.5V1026M87.5 1028.5V1027.8M88.5 1028.5V1022M90.5 1028.5V1026.5M92.5 1028.5V1002.2M94.5 1028.5V1025.5M97.5 1028.5V1024.5M99.5 1028.5V831.5M101.5 1028.5V1012.5M103.5 1028.5V974.5M104.5 1028.5V1025.5M106.5 1028.5V1021M108.5 1028.5V1025.5M110.5 1028.5V1023M111.5 1028.5V1027.51M113.5 1028.5V1018.5M115.5 1028.5V1025.5M117.5 1028.5V1024M120.5 1028.5V1024M122.5 1028.5V1026.5M124.5 1028.5V1026M126.5 1028.5V1027.51M127.5 1028.5V1021M129.5 1028.5V1026.5M131.5 1028.5V1014.5M133.5 1028.5V1025M135.5 1028.5V1024M136.5 1028.5V1027.78M138.5 1028.5V1020.2M140.5 1028.5V1025M142.5 1028.5V1025.5M144.5 1028.5V1026.44M145.5 1028.5V1026M147.5 1028.5V1027.58M149.5 1028.5V1026.5M151.5 1028.5V1027.64M152.5 1028.5V1024.5M154.5 1028.5V1026.5M156.5 1028.5V1021M158.5 1028.5V1026.5M160.5 1028.5V1025M161.5 1028.5V1026M163.5 1028.5V1018.5M165.5 1028.5V1026.5M167.5 1028.5V1025.5M168.5 1028.5V1027.39M170.5 1028.5V1026M174.5 1028.5V1016.5M176.5 1028.5V1025.5M177.5 1028.5V1008.2M179.5 1028.5V1025.5M181.5 1028.5V1022M183.5 1028.5V1026.67M184.5 1028.5V1025.5M186.5 1028.5V1027.64M188.5 1028.5V1026.5M190.5 1028.5V1027.57M192.5 1028.5V1026.5M193.5 1028.5V1027.41M195.5 1028.5V1025.5M197.5 1028.5V1014.5M199.5 1028.5V1007.5M200.5 1028.5V1024.5M202.5 1028.5V1015.5M204.5 1028.5V1024.5M206.5 1028.5V964.5M208.5 1028.5V1023M209.5 1028.5V1026.5M211.5 1028.5V1027.5M213.5 1028.5V1027M215.5 1028.5V1027.68M216.5 1028.5V1026.5M218.5 1028.5V1027.65M220.5 1028.5V1008.2M222.5 1028.5V1020.2M224.5 1028.5V997.2M225.5 1028.5V1023.5M227.5 1028.5V1023.5M229.5 1028.5V1026.5M231.5 1028.5V1024.5M232.5 1028.5V1026.5M234.5 1028.5V1027.39M236.5 1028.5V1027M238.5 1028.5V1026M240.5 1028.5V1027.64M241.5 1028.5V1018.5M243.5 1028.5V1022.5M245.5 1028.5V1003.2M247.5 1028.5V1019.5M248.5 1028.5V1022.5M250.5 1028.5V1027.77M252.5 1028.5V1018.2M254.5 1028.5V1026.5M256.5 1028.5V1025.5M257.5 1028.5V1027.3M259.5 1028.5V1019.5M261.5 1028.5V1025.5M263.5 1028.5V1019.5M264.5 1028.5V1023.5M266.5 1028.5V1016.5M268.5 1028.5V1023.5M270.5 1028.5V1016.5M272.5 1028.5V1024.5M273.5 1028.5V1019.5M275.5 1028.5V1024.5M277.5 1028.5V1021.5M279.5 1028.5V1025.5M280.5 1028.5V1023.5M282.5 1028.5V918.5M284.5 1028.5V1006M286.5 1028.5V1022.5M288.5 1028.5V1021.5M289.5 1028.5V1025.5M291.5 1028.5V1019.5M293.5 1028.5V1025.5M295.5 1028.5V1017.2M296.5 1028.5V1024.5M298.5 1028.5V1014.5M300.5 1028.5V1020.5M302.5 1028.5V1026.5M304.5 1028.5V1027.62M305.5 1028.5V1026.5M309.5 1028.5V1026M311.5 1028.5V1027.45M312.5 1028.5V1026M314.5 1028.5V1026M316.5 1028.5V1003.5M318.5 1028.5V1024M320.5 1028.5V1011.5M321.5 1028.5V1024.5M323.5 1028.5V1026M325.5 1028.5V1027.69M327.5 1028.5V1026.5M328.5 1028.5V1027.22M330.5 1028.5V1026.5M334.5 1028.5V1026.5M336.5 1028.5V1027.54M337.5 1028.5V1025.5M339.5 1028.5V1026.35M341.5 1028.5V1022M343.5 1028.5V1026M344.5 1028.5V1018.2M346.5 1028.5V1026.5M348.5 1028.5V1025.5M350.5 1028.5V1025.96M352.5 1028.5V1026.5M353.5 1028.5V1027.8M355.5 1028.5V1026.5M357.5 1028.5V1027.59M360.5 1028.5V1027.61M362.5 1028.5V1026.5M364.5 1028.5V1027.18M366.5 1028.5V1025.5M368.5 1028.5V1025.5M369.5 1028.5V1026M371.5 1028.5V1027.17M373.5 1028.5V1022M375.5 1028.5V1026.5M376.5 1028.5V1027.05M380.5 1028.5V1027M384.5 1028.5V1027M385.5 1028.5V1027M387.5 1028.5V1027.22M389.5 1028.5V1025.5M391.5 1028.5V909M392.5 1028.5V1004.5M394.5 1028.5V1024.5M396.5 1028.5V1027.69M398.5 1028.5V1019.5M400.5 1028.5V1026M401.5 1028.5V1027M403.5 1028.5V1026.46M405.5 1028.5V1027M407.5 1028.5V1027.57M408.5 1028.5V1027M410.5 1028.5V1027M412.5 1028.5V1027.48M416.5 1028.5V1025.5M417.5 1028.5V1016.5M419.5 1028.5V1016.5M421.5 1028.5V1025.5M423.5 1028.5V1027.44M424.5 1028.5V1027M430.5 1028.5V1027M432.5 1028.5V1027.7M433.5 1028.5V1026.79M435.5 1028.5V1027M437.5 1028.5V1027.74M439.5 1028.5V1027M440.5 1028.5V1027.76M444.5 1028.5V1027.66M446.5 1028.5V1025.5M448.5 1028.5V1002.2M449.5 1028.5V1024M451.5 1028.5V1026M453.5 1028.5V1027.3M455.5 1028.5V1026.98M456.5 1028.5V1027M460.5 1028.5V1027.79M462.5 1028.5V1027.8M464.5 1028.5V1027M467.5 1028.5V1026M469.5 1028.5V1027.29M471.5 1028.5V1027.58M472.5 1028.5V1026.5M476.5 1028.5V1027.46M478.5 1028.5V1027.56M480.5 1028.5V1027M485.5 1028.5V1027.5M488.5 1028.5V1027.67M490.5 1028.5V1027.3M494.5 1028.5V1027.27M496.5 1028.5V1027.69M497.5 1028.5V1027.3M499.5 1028.5V1027.3M501.5 1028.5V1027.73M503.5 1028.5V1027.68M506.5 1028.5V1027.3M510.5 1028.5V1027.8M512.5 1028.5V1027.59M513.5 1028.5V1027.34M515.5 1028.5V1027.3M520.5 1028.5V1027.77M538.5 1028.5V1027.73M547.5 1028.5V1027.74M554.5 1028.5V1027.49M563.5 1028.5V1027.8M568.5 1028.5V1027.5M570.5 1028.5V1027.78M572.5 1028.5V1027M576.5 1028.5V1027M579.5 1028.5V1027M584.5 1028.5V1027.5M590.5 1028.5V1027.67M593.5 1028.5V1027.8M597.5 1028.5V1027.73M599.5 1028.5V1027M602.5 1028.5V1026.5M604.5 1028.5V1026.5M606.5 1028.5V1026.5M608.5 1028.5V1020.5M609.5 1028.5V1025.5M613.5 1028.5V1026.5M627.5 1028.5V1027.63M629.5 1028.5V1026.5M631.5 1028.5V1026M632.5 1028.5V1026.5M643.5 1028.5V1027.5M647.5 1028.5V1027M652.5 1028.5V1027M656.5 1028.5V1027M657.5 1028.5V1021.5M659.5 1028.5V1026.5M663.5 1028.5V1027M664.5 1028.5V1027.73M666.5 1028.5V1027.72M668.5 1028.5V1027.71M672.5 1028.5V1027.49M682.5 1028.5V1026.5M684.5 1028.5V1017.8M686.5 1028.5V1025.5M688.5 1028.5V1026.5M689.5 1028.5V1027" stroke="#000" stroke-width="1.55" fill="none"/>
<path d="M407.5 982.5L416.7 1015.8" stroke="#000" stroke-width="1.2" fill="none"/>
<path d="M426.7 986.7L420.8 1015" stroke="#000" stroke-width="1.2" fill="none"/>
<text x="61.65" y="1011.7" font-size="12.3" text-anchor="start">55</text>
<text x="69.45" y="1023.9" font-size="12.3" text-anchor="start">59</text>
<text x="125.75" y="1012.6" font-size="12.3" text-anchor="start">91</text>
<text x="93.15" y="826.7" font-size="12.3" text-anchor="start">73</text>
<text x="169.15" y="1005.4" font-size="12.3" text-anchor="start">117</text>
<text x="197.75" y="959.2" font-size="12.3" text-anchor="start">133</text>
<text x="214.15" y="994.7" font-size="12.3" text-anchor="start">143</text>
<text x="236.65" y="1002.6" font-size="12.3" text-anchor="start">155</text>
<text x="275.15" y="915.3" font-size="12.3" text-anchor="start">176</text>
<text x="382.85" y="907.5" font-size="12.3" text-anchor="start">237</text>
<text x="289.95" y="1011.2" font-size="12.3" text-anchor="start">185</text>
<text x="308.15" y="1000.1" font-size="12.3" text-anchor="start">195</text>
<text x="335.25" y="1016.4" font-size="12.3" text-anchor="start">211</text>
<text x="395.25" y="979.2" font-size="12.3" text-anchor="start">252</text>
<text x="426.15" y="983.4" font-size="12.3" text-anchor="start">253</text>
<text x="439.75" y="1000.6" font-size="12.3" text-anchor="start">269</text>
<text x="599.45" y="1018.3" font-size="12.3" text-anchor="start">359</text>
<text x="649.05" y="1019.8" font-size="12.3" text-anchor="start">387</text>
<text x="675.75" y="1015.9" font-size="12.3" text-anchor="start">402</text>
<text x="679.4" y="998.4" font-size="15">M<tspan font-size="10.8" dy="-5">+•</tspan></text>
</g>
<text x="146.65" y="227.2" font-size="12.3" text-anchor="start">117</text>
<text x="166.15" y="225.1" font-size="12.3" text-anchor="start">129</text>
<text x="188.95" y="219.2" font-size="12.3" text-anchor="start">143</text>
<text x="208.65" y="217.2" font-size="12.3" text-anchor="start">155</text>
<text x="232.25" y="229.2" font-size="12.3" text-anchor="start">169</text>
<text x="253.95" y="229.2" font-size="12.3" text-anchor="start">183</text>
<text x="311.95" y="225.4" font-size="12.3" text-anchor="start">219</text>
<text x="351.95" y="220.1" font-size="12.3" text-anchor="start">252</text>
<text x="394.15" y="213.7" font-size="12.3" text-anchor="start">253</text>
<text x="441.15" y="228.4" font-size="12.3" text-anchor="start">299</text>
<text x="484.75" y="230.1" font-size="12.3" text-anchor="start">327</text>
<text x="554.45" y="236.7" font-size="12.3" text-anchor="start">370</text>
<text x="631.45" y="218.6" font-size="12.3" text-anchor="start">417</text>
<text x="676.95" y="224.9" font-size="12.3" text-anchor="start">445</text>
<text x="699.65" y="223" font-size="12.3" text-anchor="start">460</text>
<path d="M603.8 108.8L621.2 99.2M621.2 99.2L638.5 108.8M638.5 108.8L638.5 128.5M638.5 128.5L621.2 138.4M621.2 138.4L603.8 128.5M603.8 128.5L603.8 108.8M638.5 108.8L655.8 99.2M655.8 99.2L672.6 108.8M672.6 108.8L672.6 128.5M672.6 128.5L655.8 138.4M655.8 138.4L638.5 128.5M655.8 99.2L655.8 80M655.8 80L672.6 70.1M672.6 70.1L689.7 80M689.7 80L689.7 99.2M689.7 99.2L672.6 108.8M689.7 80L707 70.1M707 70.1L707 50.5M707 70.1L723.4 80M658.54 80.82L671.98 72.9M671.98 106.03L658.54 98.35" stroke="#4d4d4d" stroke-width="1" fill="none" stroke-linecap="round"/>
<path d="M688.8 80.6L688.8 98.6" stroke="#707070" stroke-width="3" fill="none"/>
<path d="M638.5 108.8L639.7 89.24L636.1 89.36Z" fill="#000"/>
<path d="M621.2 138.4L609.41 154.04L613.39 156.36Z" fill="#000"/>
<path d="M621.2 138.4L629.6 153.2" stroke="#000" stroke-width="1.5" stroke-dasharray="2.3 1.7" fill="none"/>
<path d="M672.6 128.5L688.24 127.05L687.36 123.15Z" fill="#000"/>
<path d="M673.46 131.97L674.84 131.28M674.67 135.26L676.73 134.24M675.88 138.55L678.62 137.2M677.1 141.84L680.5 140.16" stroke="#000" stroke-width="1.4" fill="none"/>
<text x="688.8" y="128" font-size="11.4" font-weight="bold">O<tspan font-size="9.6">TMS</tspan></text>
<text x="628" y="159.6" font-size="10.8" font-weight="bold">COO<tspan font-size="9.8">TMS</tspan></text>
<text x="678.8" y="149.2" font-size="10.5" font-weight="bold">H</text>
<text x="648.8" y="181.5" font-size="12" font-weight="bold">4</text>
<path d="M719.5 40H739.5V59.7" stroke="#333" stroke-width="1.05" fill="none"/>
<text class="sn" x="740.1" y="36.1" font-size="9.5" font-weight="bold" letter-spacing="0.8">•+</text>
<path d="M605.5 365L622.9 355.4M622.9 355.4L640.2 365M640.2 365L640.2 384.7M640.2 384.7L622.9 394.6M622.9 394.6L605.5 384.7M605.5 384.7L605.5 365M640.2 365L657.5 355.4M657.5 355.4L674.3 365M674.3 365L674.3 384.7M674.3 384.7L657.5 394.6M657.5 394.6L640.2 384.7M657.5 355.4L657.5 336.2M657.5 336.2L674.3 326.3M674.3 326.3L691.4 336.2M691.4 336.2L691.4 355.4M691.4 355.4L674.3 365M691.4 336.2L708.7 326.3M708.7 326.3L708.7 306.7M708.7 326.3L725.1 336.2M660.24 337.02L673.68 329.1M673.68 362.23L660.24 354.55M689.3 338.11L689.3 353.47" stroke="#4d4d4d" stroke-width="1" fill="none" stroke-linecap="round"/>
<path d="M640.2 365L641.4 345.44L637.8 345.56Z" fill="#000"/>
<path d="M622.9 394.6L611.11 410.24L615.09 412.56Z" fill="#000"/>
<path d="M622.9 394.6L631.3 409.4" stroke="#000" stroke-width="1.5" stroke-dasharray="2.3 1.7" fill="none"/>
<path d="M674.3 384.7L687.91 383.32L686.69 378.88Z" fill="#000"/>
<path d="M674.3 384.7L681.7 398.3" stroke="#000" stroke-width="1.5" stroke-dasharray="2.3 1.7" stroke-dashoffset="-1.2" fill="none"/>
<text x="689.2" y="383.8" font-size="10.5" font-weight="bold">H</text>
<text x="680.5" y="405.8" font-size="11.4" font-weight="bold">O<tspan font-size="9.6">TMS</tspan></text>
<text x="629.4" y="415.8" font-size="10.8" font-weight="bold">COO<tspan font-size="9.8">TMS</tspan></text>
<text x="655.8" y="435.8" font-size="12" font-weight="bold">3</text>
<path d="M721 296.2H740.4V316" stroke="#333" stroke-width="1.05" fill="none"/>
<text class="sn" x="741" y="292.3" font-size="9.5" font-weight="bold" letter-spacing="0.8">•+</text>
<path d="M604.1 635.8L621.5 626.2M621.5 626.2L638.8 635.8M638.8 635.8L638.8 655.5M638.8 655.5L621.5 665.4M621.5 665.4L604.1 655.5M604.1 655.5L604.1 635.8M638.8 635.8L656.1 626.2M656.1 626.2L672.9 635.8M672.9 635.8L672.9 655.5M672.9 655.5L656.1 665.4M656.1 665.4L638.8 655.5M656.1 626.2L656.1 607M656.1 607L672.9 597.1M672.9 597.1L690 607M690 607L690 626.2M690 626.2L672.9 635.8M690 607L707.3 597.1M707.3 597.1L707.3 577.5M707.3 597.1L723.7 607M658.84 607.82L672.28 599.9M672.28 633.03L658.84 625.35" stroke="#4d4d4d" stroke-width="1" fill="none" stroke-linecap="round"/>
<path d="M689.1 607.6L689.1 625.6" stroke="#707070" stroke-width="3" fill="none"/>
<path d="M638.8 635.8L640 616.24L636.4 616.36Z" fill="#000"/>
<path d="M621.5 665.4L609.71 681.04L613.69 683.36Z" fill="#000"/>
<path d="M621.5 665.4L629.9 680.2" stroke="#000" stroke-width="1.5" stroke-dasharray="2.3 1.7" fill="none"/>
<path d="M672.9 655.5L688.54 654.05L687.66 650.15Z" fill="#000"/>
<path d="M673.76 658.97L675.14 658.28M674.97 662.26L677.03 661.24M676.18 665.55L678.92 664.2M677.4 668.84L680.8 667.16" stroke="#000" stroke-width="1.4" fill="none"/>
<text x="689.2" y="654.3" font-size="11.4" font-weight="bold">O<tspan font-size="9.6">TMS</tspan></text>
<text x="679.5" y="676.2" font-size="10.5" font-weight="bold">D</text>
<text x="629.2" y="686.2" font-size="10.8" font-weight="bold">COO<tspan font-size="9.8">TMS</tspan></text>
<text x="655.3" y="711.4" font-size="12" font-weight="bold">9</text>
<path d="M720 566.7H739.5V586.5" stroke="#333" stroke-width="1.05" fill="none"/>
<text class="sn" x="740.1" y="562.8" font-size="9.5" font-weight="bold" letter-spacing="0.8">•+</text>
<path d="M607.9 901.2L625.3 891.6M625.3 891.6L642.6 901.2M642.6 901.2L642.6 920.9M642.6 920.9L625.3 930.8M625.3 930.8L607.9 920.9M607.9 920.9L607.9 901.2M642.6 901.2L659.9 891.6M659.9 891.6L676.7 901.2M676.7 901.2L676.7 920.9M676.7 920.9L659.9 930.8M659.9 930.8L642.6 920.9M659.9 891.6L659.9 872.4M659.9 872.4L676.7 862.5M676.7 862.5L693.8 872.4M693.8 872.4L693.8 891.6M693.8 891.6L676.7 901.2M693.8 872.4L711.1 862.5M711.1 862.5L711.1 842.9M711.1 862.5L727.5 872.4M662.64 873.22L676.08 865.3M676.08 898.43L662.64 890.75M691.7 874.31L691.7 889.67" stroke="#4d4d4d" stroke-width="1" fill="none" stroke-linecap="round"/>
<path d="M642.6 901.2L643.8 881.64L640.2 881.76Z" fill="#000"/>
<path d="M625.3 930.8L613.51 946.44L617.49 948.76Z" fill="#000"/>
<path d="M625.3 930.8L633.7 945.6" stroke="#000" stroke-width="1.5" stroke-dasharray="2.3 1.7" fill="none"/>
<path d="M676.7 920.9L692.34 919.45L691.46 915.55Z" fill="#000"/>
<path d="M677.56 924.37L678.94 923.68M678.77 927.66L680.83 926.64M679.98 930.95L682.72 929.6M681.2 934.24L684.6 932.56" stroke="#000" stroke-width="1.4" fill="none"/>
<text x="691.9" y="920.8" font-size="11.4" font-weight="bold">O<tspan font-size="9.6">TMS</tspan></text>
<text x="682.3" y="941.6" font-size="10.5" font-weight="bold">H</text>
<text x="631.9" y="952" font-size="10.5" font-weight="bold">COOCH<tspan font-size="7.5" dy="2.3">3</tspan></text>
<text x="652.3" y="975.7" font-size="12" font-weight="bold">4</text>
<path d="M723.8 831.8H743.5V851.5" stroke="#333" stroke-width="1.05" fill="none"/>
<text class="sn" x="744.1" y="827.9" font-size="9.5" font-weight="bold" letter-spacing="0.8">•+</text>
</svg></body></html>
